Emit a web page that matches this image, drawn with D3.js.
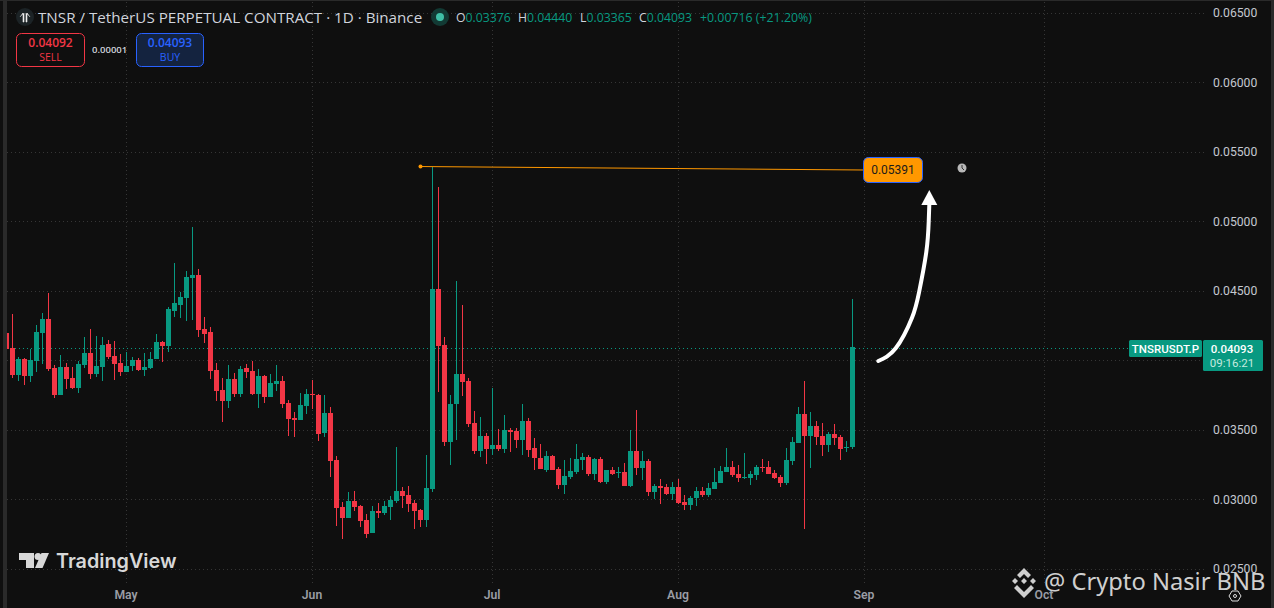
<!DOCTYPE html>
<html lang="en">
<head>
<meta charset="UTF-8">
<title>TNSR / TetherUS PERPETUAL CONTRACT</title>
<script src="https://d3js.org/d3.v7.min.js"></script>
<style>
    html, body { margin: 0; padding: 0; background: #0f0f0f; overflow: hidden; }
    svg { display: block; font-family: "Noto Sans", sans-serif; }
    .axis path, .axis line { display: none; }
    .axis text { font-family: Roboto, sans-serif; font-size: 12.2px; fill: #c4c7cf; }
</style>
</head>
<body>
<svg id="chart" width="1274" height="608"></svg>
<script>
// candles, one per day
const opens = [0.04196,0.04088,0.03894,0.04009,0.03887,0.03995,0.04196,0.04297,0.03944,0.03750,
    0.03951,0.03873,0.03800,0.03966,0.04052,0.03901,0.03951,0.04117,0.04031,0.03980,
    0.03916,0.03959,0.04002,0.03930,0.03944,0.04009,0.04131,0.04103,0.04354,0.04398,
    0.04448,0.04592,0.04613,0.04225,0.04203,0.03930,0.03786,0.03707,0.03866,0.03758,
    0.03945,0.03923,0.03758,0.03887,0.03736,0.03830,0.03851,0.03693,0.03585,0.03571,
    0.03671,0.03758,0.03750,0.03477,0.03621,0.03283,0.02945,0.02866,0.02988,0.02952,
    0.02851,0.02758,0.02916,0.02902,0.02945,0.02988,0.03060,0.03031,0.02973,0.02923,
    0.02851,0.03075,0.04513,0.04110,0.03413,0.03686,0.03902,0.03851,0.03549,0.03348,
    0.03456,0.03362,0.03391,0.03362,0.03499,0.03492,0.03427,0.03564,0.03369,0.03298,
    0.03211,0.03312,0.03218,0.03103,0.03161,0.03197,0.03283,0.03305,0.03182,0.03290,
    0.03125,0.03211,0.03193,0.03197,0.03096,0.03348,0.03225,0.03276,0.03053,0.03096,
    0.03089,0.03038,0.03089,0.02981,0.02959,0.03010,0.03060,0.03031,0.03074,0.03118,
    0.03197,0.03233,0.03182,0.03154,0.03154,0.03175,0.03233,0.03233,0.03189,0.03161,
    0.03118,0.03276,0.03405,0.03614,0.03456,0.03528,0.03456,0.03391,0.03470,0.03448,
    0.03372,0.03376];
const highs = [0.04218,0.04333,0.04024,0.04016,0.04081,0.04254,0.04340,0.04484,0.03966,0.04038,
    0.03980,0.03951,0.03995,0.04167,0.04225,0.04175,0.04167,0.04146,0.04139,0.04045,
    0.04059,0.04024,0.04016,0.04052,0.04059,0.04189,0.04139,0.04383,0.04700,0.04491,
    0.04642,0.04959,0.04656,0.04311,0.04239,0.03980,0.03873,0.03966,0.03909,0.03959,
    0.03973,0.03995,0.03937,0.03894,0.03902,0.03966,0.03887,0.03714,0.03628,0.03765,
    0.03794,0.03858,0.03758,0.03750,0.03664,0.03312,0.02981,0.03053,0.03060,0.02959,
    0.02894,0.02952,0.02973,0.02988,0.03024,0.03376,0.03089,0.03096,0.02995,0.02930,
    0.03319,0.05391,0.05247,0.04168,0.03751,0.04571,0.04398,0.03873,0.03636,0.03592,
    0.03477,0.03801,0.03506,0.03607,0.03513,0.03513,0.03686,0.03585,0.03441,0.03398,
    0.03348,0.03319,0.03233,0.03283,0.03298,0.03398,0.03333,0.03319,0.03298,0.03305,
    0.03211,0.03233,0.03233,0.03262,0.03499,0.03643,0.03348,0.03290,0.03110,0.03146,
    0.03110,0.03125,0.03146,0.03031,0.03024,0.03089,0.03089,0.03118,0.03225,0.03240,
    0.03369,0.03276,0.03247,0.03333,0.03204,0.03247,0.03290,0.03276,0.03211,0.03175,
    0.03369,0.03448,0.03664,0.03851,0.03628,0.03564,0.03549,0.03484,0.03542,0.03463,
    0.03420,0.04440];
const lows = [0.04075,0.03873,0.03851,0.03822,0.03844,0.03916,0.03973,0.03923,0.03728,0.03750,
    0.03793,0.03793,0.03765,0.03944,0.03865,0.03880,0.03851,0.04009,0.03858,0.03887,
    0.03916,0.03923,0.03923,0.03887,0.03937,0.04009,0.03987,0.04059,0.04311,0.04304,
    0.04282,0.04290,0.04167,0.04124,0.03865,0.03707,0.03556,0.03657,0.03736,0.03736,
    0.03873,0.03750,0.03657,0.03693,0.03736,0.03779,0.03657,0.03456,0.03448,0.03571,
    0.03614,0.03650,0.03420,0.03448,0.03161,0.02808,0.02715,0.02866,0.02916,0.02801,
    0.02722,0.02758,0.02866,0.02887,0.02851,0.02973,0.02938,0.02909,0.02786,0.02801,
    0.02801,0.03053,0.03772,0.03384,0.03247,0.03427,0.03744,0.03521,0.03326,0.03305,
    0.03254,0.03319,0.03348,0.03333,0.03341,0.03369,0.03319,0.03305,0.03211,0.03218,
    0.03197,0.03211,0.03075,0.03039,0.03146,0.03182,0.03211,0.03168,0.03139,0.03118,
    0.03110,0.03175,0.03154,0.03096,0.03089,0.03175,0.03139,0.03024,0.03002,0.02966,
    0.03031,0.02995,0.02966,0.02923,0.02923,0.02952,0.03017,0.03017,0.03074,0.03118,
    0.03197,0.03161,0.03125,0.03146,0.03103,0.03139,0.03197,0.03182,0.03146,0.03089,
    0.03103,0.03247,0.03405,0.02787,0.03225,0.03391,0.03312,0.03341,0.03391,0.03283,
    0.03341,0.03365];
const closes = [0.04081,0.03894,0.04009,0.03887,0.04002,0.04203,0.04297,0.03937,0.03750,0.03951,
    0.03865,0.03800,0.03973,0.04052,0.03901,0.03959,0.04110,0.04024,0.03973,0.03916,
    0.03959,0.04002,0.03930,0.03951,0.04009,0.04131,0.04103,0.04369,0.04412,0.04455,
    0.04599,0.04613,0.04218,0.04189,0.03923,0.03779,0.03707,0.03866,0.03758,0.03937,
    0.03916,0.03758,0.03887,0.03736,0.03837,0.03851,0.03686,0.03578,0.03571,0.03679,
    0.03758,0.03750,0.03470,0.03621,0.03276,0.02938,0.02866,0.02988,0.02945,0.02844,
    0.02750,0.02916,0.02902,0.02952,0.02995,0.03060,0.03024,0.02966,0.02916,0.02851,
    0.03081,0.04513,0.04103,0.03413,0.03686,0.03902,0.03844,0.03542,0.03348,0.03456,
    0.03362,0.03391,0.03362,0.03499,0.03485,0.03427,0.03564,0.03355,0.03298,0.03218,
    0.03312,0.03211,0.03103,0.03168,0.03204,0.03290,0.03305,0.03182,0.03290,0.03125,
    0.03211,0.03182,0.03197,0.03096,0.03348,0.03225,0.03276,0.03053,0.03096,0.03082,
    0.03038,0.03089,0.02974,0.02959,0.03010,0.03060,0.03031,0.03082,0.03125,0.03204,
    0.03233,0.03175,0.03154,0.03161,0.03182,0.03233,0.03225,0.03182,0.03154,0.03118,
    0.03283,0.03413,0.03614,0.03456,0.03528,0.03448,0.03391,0.03470,0.03441,0.03362,
    0.03377,0.04093];

// axis ticks
const priceTicks = [0.025,0.03,0.035,0.04,0.045,0.05,0.055,0.06,0.065];
const monthDays = [20,51,81,112,143,173];
const monthLabels = ["May","Jun","Jul","Aug","Sep","Oct"];

// drawing on top of the candles, in day / price
const lastPrice = 0.04093;
const levelDays = [69,143];
const levelPrices = [0.05394,0.05369];
const levelLabel = "0.05391";
const arrowDays = [145.3,148.2,150.9,152.1,153.3,153.7,153.8];
const arrowPrices = [0.03995,0.04086,0.04304,0.04491,0.04779,0.04995,0.05117];
const arrowTip = [153.8,0.05225];

const GREEN = "#089981", RED = "#f23645", ORANGE = "#ff9800";
const svg = d3.select("#chart");
const W = 1274, H = 608;

const x = d3.scaleLinear().domain([0,173]).range([6.5,1044.5]);
const y = d3.scaleLinear().domain([0.025,0.065]).range([568.8,12.8]);

svg.append("rect").attr("width",W).attr("height",H).attr("fill","#0f0f0f");

svg.append("defs").append("clipPath").attr("id","pane")
    .append("rect").attr("x",7).attr("y",0).attr("width",1197).attr("height",H);

// grid
const grid = svg.append("g").attr("stroke","#363636").attr("stroke-dasharray","1 3");
grid.selectAll(".gh").data(priceTicks).enter().append("line")
    .attr("x1",7).attr("x2",1204)
    .attr("y1",d => Math.round(y(d))+.5).attr("y2",d => Math.round(y(d))+.5);
grid.selectAll(".gv").data(monthDays).enter().append("line")
    .attr("x1",d => x(d)).attr("x2",d => x(d))
    .attr("y1",2).attr("y2",585);

// last price line
svg.append("line")
    .attr("x1",7).attr("x2",1129)
    .attr("y1",Math.ceil(y(lastPrice))+.5).attr("y2",Math.ceil(y(lastPrice))+.5)
    .attr("stroke",GREEN).attr("stroke-dasharray","1 3");

// candles
const candles = svg.append("g").attr("clip-path","url(#pane)")
    .selectAll("g").data(opens).enter().append("g")
    .attr("fill",(d,i) => closes[i] >= opens[i] ? GREEN : RED);
candles.append("rect")
    .attr("x",(d,i) => x(i)-.5).attr("width",1)
    .attr("y",(d,i) => Math.round(y(highs[i])))
    .attr("height",(d,i) => Math.round(y(lows[i]))-Math.round(y(highs[i])));
candles.append("rect")
    .attr("x",(d,i) => x(i)-2.5).attr("width",5)
    .attr("y",(d,i) => Math.round(y(Math.max(opens[i],closes[i]))))
    .attr("height",(d,i) => Math.max(1,Math.round(y(Math.min(opens[i],closes[i])))-Math.round(y(Math.max(opens[i],closes[i])))));

// axes
svg.append("g").attr("class","axis")
    .attr("transform","translate(1204,0)")
    .call(d3.axisRight(y).tickValues(priceTicks).tickFormat(d3.format(".5f")).tickSize(0).tickPadding(9));
svg.append("g").attr("class","axis")
    .attr("transform","translate(-1,586)")
    .call(d3.axisBottom(x).tickValues(monthDays).tickFormat((d,i) => monthLabels[i]).tickSize(0).tickPadding(4))
    .selectAll("text").style("font-weight",600).style("fill","#9a9da5");

// window edges
svg.append("rect").attr("x",3).attr("y",0).attr("width",4).attr("height",H).attr("fill","#2a2a2a");
svg.append("rect").attr("x",0).attr("y",0).attr("width",W).attr("height",1).attr("fill","#2a2a2a");
svg.append("rect").attr("x",1271).attr("y",0).attr("width",3).attr("height",H).attr("fill","#2a2a2a");

// orange level
svg.append("line")
    .attr("x1",x(levelDays[0])).attr("y1",y(levelPrices[0]))
    .attr("x2",x(levelDays[1])).attr("y2",y(levelPrices[1]))
    .attr("stroke",ORANGE).attr("stroke-width",1);
svg.append("circle").attr("cx",x(levelDays[0])).attr("cy",y(levelPrices[0])).attr("r",2).attr("fill",ORANGE);
svg.append("rect").attr("x",863.5).attr("y",157.5).attr("width",59).attr("height",25).attr("rx",5)
    .attr("fill",ORANGE).attr("stroke","#2962ff");
svg.append("text").attr("x",893).attr("y",174).attr("text-anchor","middle")
    .style("font-family","Roboto").style("font-size","12px").attr("fill","#1b1b1b").text(levelLabel);

// clock
svg.append("circle").attr("cx",962).attr("cy",168).attr("r",4.5).attr("fill","#b8b8b8");
svg.append("path").attr("d","M962 165V168L964 170").attr("fill","none").attr("stroke","#333").attr("stroke-width",1);

// arrow
const arrowLine = d3.line().x((d,i) => x(arrowDays[i])).y((d,i) => y(arrowPrices[i])).curve(d3.curveNatural);
svg.append("path").datum(arrowDays).attr("d",arrowLine)
    .attr("fill","none").attr("stroke","#fff").attr("stroke-width",4).attr("stroke-linecap","round");
const tipX = x(arrowTip[0]), tipY = y(arrowTip[1]), baseY = y(arrowPrices[arrowPrices.length-1]);
svg.append("path").attr("d",`M${tipX} ${tipY}L${tipX+8} ${baseY}H${tipX-8}Z`).attr("fill","#fff");

// header
const head = svg.append("g").style("font-family","'Open Sans', sans-serif");
head.append("circle").attr("cx",25).attr("cy",17).attr("r",9).attr("fill","#1c2326");
head.append("path").attr("d","M20 17l3-4v9h1v-9M30 17l-3-4v9h-1v-9").attr("fill","#eee").attr("stroke","#eee").attr("stroke-width",.6);
head.append("text").attr("x",38).attr("y",22.5).style("font-size","15.2px").attr("fill","#d1d4dc")
    .text("TNSR / TetherUS PERPETUAL CONTRACT · 1D · Binance");
head.append("circle").attr("cx",440).attr("cy",17).attr("r",9).attr("fill","#123a34");
head.append("circle").attr("cx",440).attr("cy",17).attr("r",4).attr("fill","#3fbfa6");

const ohlc = [["O","0.03376",456],["H","0.04440",518],["L","0.03365",580],["C","0.04093",639]];
ohlc.forEach(o => {
    const t = head.append("text").attr("x",o[2]).attr("y",21.5).style("font-size","12.25px");
    t.append("tspan").attr("fill","#d1d4dc").text(o[0]);
    t.append("tspan").attr("fill",GREEN).text(o[1]);
});
head.append("text").attr("x",700).attr("y",21.5).style("font-size","12.35px").attr("fill",GREEN).text("+0.00716 (+21.20%)");

// buy / sell
function tradeBox(bx,w,col,fill,price,label) {
    head.append("rect").attr("x",bx+.5).attr("y",33.5).attr("width",w).attr("height",33).attr("rx",5)
        .attr("fill",fill).attr("stroke",col);
    head.append("text").attr("x",bx+w/2+.5).attr("y",47).attr("text-anchor","middle")
        .style("font-size","12px").style("font-weight",600).attr("fill",col).text(price);
    head.append("text").attr("x",bx+w/2+.5).attr("y",61).attr("text-anchor","middle")
        .style("font-size","10.5px").attr("fill",col).text(label);
}
tradeBox(16,68,RED,"none","0.04092","SELL");
tradeBox(136,67,"#2962ff","#14233f","0.04093","BUY");
head.append("text").attr("x",92).attr("y",53).style("font-size","9.5px").style("font-weight",600).attr("fill","#d1d4dc").text("0.00001");

// last price tags
svg.append("rect").attr("x",1129).attr("y",340).attr("width",73).attr("height",17).attr("rx",1.5).attr("fill",GREEN);
svg.append("text").attr("x",1165.5).attr("y",353).attr("text-anchor","middle")
    .style("font-family","Roboto").style("font-size","11.5px").style("font-weight",500).attr("fill","#fff").text("TNSRUSDT.P");
svg.append("rect").attr("x",1203).attr("y",340).attr("width",60).attr("height",31).attr("rx",1.5).attr("fill",GREEN);
svg.append("text").attr("x",1232).attr("y",352.5).attr("text-anchor","middle")
    .style("font-family","Roboto").style("font-size","11.5px").style("font-weight",500).attr("fill","#fff").text("0.04093");
svg.append("text").attr("x",1232).attr("y",366.5).attr("text-anchor","middle")
    .style("font-family","Roboto").style("font-size","11.5px").attr("fill","#c5eadf").text("09:16:21");

// TradingView logo
const logo = svg.append("g").attr("fill","#d8d8d8");
logo.append("path").attr("d","M19 553H34V568H26V560H19Z");
logo.append("circle").attr("cx",38).attr("cy",556.5).attr("r",3.5);
logo.append("path").attr("d","M41.5 553H49L42.5 568H35Z");
logo.append("text").attr("x",56).attr("y",568).style("font-family","Inter").style("font-size","19.8px").style("font-weight",600)
    .text("TradingView");

// watermark
const mark = svg.append("g").attr("fill","#cfcfcf");
mark.append("path").attr("d","M1024 568l7 7-3 3-4-4-4 4-3-3ZM1015 578l3 3-3 3-3-3ZM1033 578l3 3-3 3-3-3ZM1024 578l3 3-3 3-3-3ZM1017 585l7 7 7-7 3 3-10 10-10-10Z");
mark.append("text").attr("x",1044).attr("y",590).style("font-family","'Noto Sans'").style("font-size","23.7px")
    .text("@ Crypto Nasir BNB");
svg.append("path").attr("d","M1229 596l3-5h6l3 5-3 5h-6Z").attr("fill","none").attr("stroke","#dcdcdc");
svg.append("circle").attr("cx",1235).attr("cy",596).attr("r",1.5).attr("fill","none").attr("stroke","#dcdcdc");
</script>
</body>
</html>
